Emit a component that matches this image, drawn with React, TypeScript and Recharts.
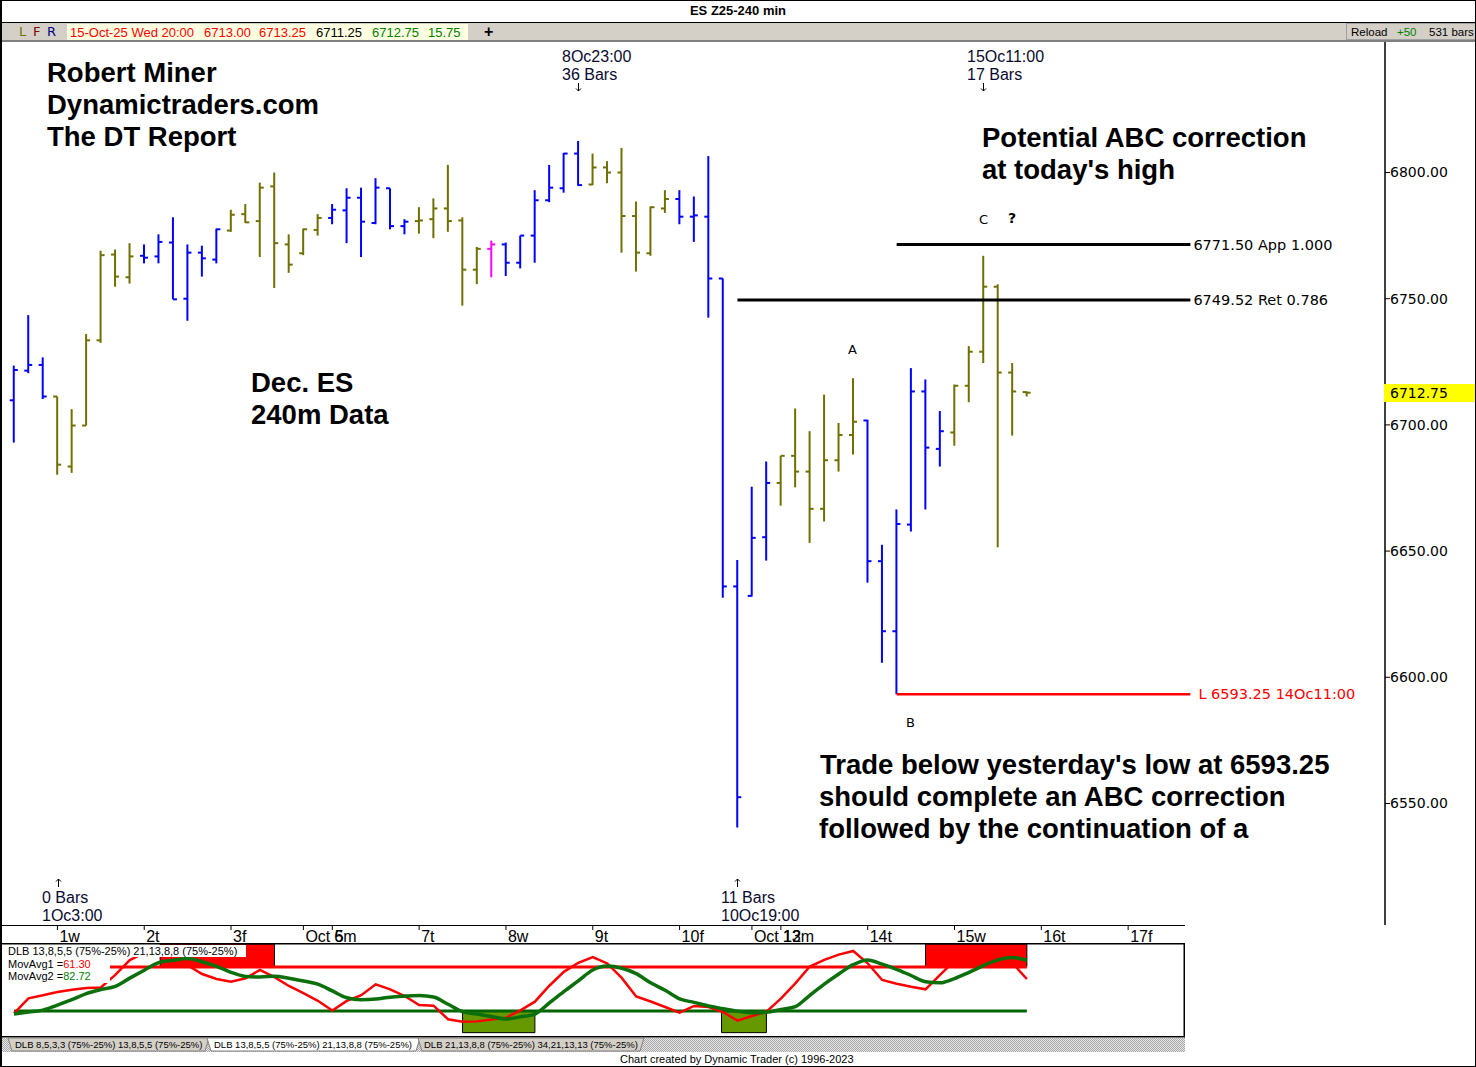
import React from 'react';
import { ComposedChart, Bar, Line, XAxis, YAxis, ReferenceLine, ReferenceArea } from 'recharts';

// ---------- DATA ----------
const opens = [6709.75, 6721.5, 6723.75, 6711.25, 6683.5, 6699.75, 6733.5, 6767.5, 6758.5, 6767, 6766.75, 6772.25, 6750, 6768.25, 6765.5, 6777, 6783.5, 6780.75, 6794.5, 6771.5, 6768, 6777.25, 6782, 6785, 6790, 6780, 6793.75, 6778.75, 6780.75, 6781.5, 6785.75, 6781, 6761.5, 6769.75, 6771.5, 6764.25, 6775, 6789, 6793.75, 6807.5, 6795.25, 6802, 6800, 6782.75, 6768, 6785.75, 6789.5, 6782.5, 6782.5, 6758, 6636, 6632.25, 6655.5, 6677, 6687.75, 6681.5, 6666.75, 6686, 6696, 6701.75, 6646, 6618.25, 6660.5, 6713.25, 6690.5, 6697, 6715.5, 6729, 6754.75, 6720.75, 6713];
const highs = [6723.5, 6743.5, 6726.75, 6711.25, 6706.25, 6736, 6769, 6769.5, 6772, 6771.5, 6775.5, 6782.25, 6771.5, 6771, 6777.75, 6785.25, 6787.5, 6796, 6800, 6775.5, 6777.75, 6783.5, 6787.5, 6793.75, 6794, 6797.75, 6793.75, 6781.5, 6786.25, 6789.75, 6803, 6782.25, 6770.5, 6773, 6772.25, 6775, 6793, 6803, 6807.75, 6812.5, 6807.5, 6804.5, 6809.75, 6788.5, 6786.5, 6793, 6793, 6790.5, 6806.5, 6758, 6646.5, 6675.5, 6685.5, 6687.75, 6706.5, 6697.5, 6712, 6700.75, 6718.5, 6702, 6652.5, 6666.5, 6722.5, 6718, 6705.5, 6716, 6731.25, 6767, 6755.75, 6724.5, 6713.25];
const lows = [6693, 6720.5, 6710.25, 6680.25, 6681, 6699.75, 6732.5, 6754.75, 6756, 6764, 6764, 6749.75, 6741.25, 6758.75, 6764, 6776.5, 6780, 6766.5, 6754.25, 6760.25, 6767.25, 6775, 6779.5, 6772, 6766.5, 6779.5, 6777.5, 6775.5, 6775.75, 6774, 6776.5, 6747.25, 6755.75, 6758.5, 6759, 6762, 6764.25, 6788.25, 6792, 6794.75, 6795, 6795.75, 6768.25, 6760.75, 6767, 6784, 6779.5, 6772.5, 6742.5, 6631.5, 6540.5, 6632, 6646.25, 6668, 6675.25, 6653.25, 6661.75, 6681.5, 6688.25, 6637.5, 6605.75, 6593.25, 6657.75, 6666.5, 6683.5, 6691.75, 6709, 6724.5, 6651.5, 6695.75, 6711.25];
const closes = [6721.75, 6723.75, 6711.25, 6684.25, 6699.75, 6733.5, 6767.25, 6758.75, 6766.75, 6766.25, 6772.5, 6749.75, 6768.25, 6766, 6777.5, 6783.25, 6780.25, 6794, 6772, 6763.5, 6777.5, 6782, 6785.25, 6790, 6780.5, 6794, 6778.75, 6780.5, 6781, 6785.75, 6780.75, 6761.5, 6769.75, 6771.5, 6764.25, 6775, 6789, 6794, 6807.5, 6795, 6802, 6800, 6782.75, 6768.25, 6786.25, 6789.5, 6782.5, 6783, 6758, 6636, 6552.5, 6655.25, 6677, 6687.75, 6681.5, 6666.75, 6686, 6696, 6701.25, 6646, 6618.25, 6660.75, 6713.25, 6691, 6697.5, 6715.5, 6729, 6754.75, 6720.75, 6713.25, 6712.75];
// b = blue, o = olive, m = magenta
const barColors = ['b','b','b','o','o','o','o','o','o','b','b','b','b','b','b','o','o','o','o','o','o','o','b','b','b','b','b','b','o','o','o','o','o','m','b','b','b','b','b','b','o','o','o','o','o','o','b','b','b','b','b','b','b','o','o','o','o','o','o','b','b','b','b','b','b','o','o','o','o','o','o'];

const redOsc = [22.4, 39.4, 42.8, 46.6, 49, 51, 51.7, 66, 82.8, 91, 95, 94, 77, 67, 61.4, 58.3, 62.1, 71.6, 63.5, 53.4, 45.2, 36.6, 25.5, 36.5, 43, 55.3, 49.5, 42, 31.8, 31, 15.6, 12.8, 13.2, 15.2, 17.3, 25.7, 35.6, 53.7, 69.5, 79.8, 86.3, 79, 62.6, 41.5, 35.8, 29.5, 23.1, 30.7, 29.5, 23.8, 14, 19.3, 24.2, 39, 56.3, 75.5, 83, 89, 93.2, 79.2, 60.2, 56, 52.5, 49.6, 66, 82, 88, 90, 87, 79.5, 61.3];
const greenOsc = [21.6, 23.8, 26, 31.7, 37.8, 44.7, 49.3, 53, 62.3, 71.3, 80, 82.6, 84.6, 81, 75.8, 68.9, 64.2, 63.5, 64.6, 62.2, 59.1, 55.5, 47.8, 40, 37.8, 38.5, 40.7, 41.9, 42.7, 40.8, 32.6, 24.2, 21.5, 18.7, 15.9, 18.3, 21.5, 34.3, 47.1, 59.2, 71.5, 76, 73.5, 67.5, 57, 48.5, 38.8, 34.8, 30.7, 27.6, 24.6, 23.1, 23.5, 26.7, 30, 42.8, 55.5, 67, 77.6, 83, 78.2, 72.4, 65.3, 58.3, 57, 61.8, 68.9, 76.5, 83.1, 85.8, 82.7];

const dayTicks = [3, 9, 15, 20, 22, 28, 34, 40, 46, 51, 53, 59, 65, 71, 77];
const dayLabels = ['1w', '2t', '3f', 'Oct 5', '6m', '7t', '8w', '9t', '10f', 'Oct 12', '13m', '14t', '15w', '16t', '17f'];
const priceTicks = [6550, 6600, 6650, 6700, 6750, 6800];

const appLevel = 6771.5;
const retLevel = 6749.52;
const lowLevel = 6593.25;

// ---------- BUILT TABLES ----------
const COLOR_MAP: Record<string, string> = { b: '#0000FF', o: '#707000', m: '#FF00FF' };
const priceData = opens.map((o, i) => ({
  i,
  open: o,
  high: highs[i],
  low: lows[i],
  close: closes[i],
  range: [lows[i], highs[i]],
  color: COLOR_MAP[barColors[i]],
}));
const oscData = redOsc.map((r, i) => ({ i, red: r, green: greenOsc[i] }));

const SANS = 'Liberation Sans, Arial, sans-serif';
const VERD = 'DejaVu Sans, Verdana, sans-serif';

function OhlcShape(props: any) {
  const { x, y, width, height, payload } = props;
  if (x == null || y == null || payload == null || isNaN(x)) return null;
  const top = Math.min(y, y + height);
  const h = Math.abs(height);
  const cx = x + width / 2;
  const span = payload.high - payload.low;
  const at = (v: number) => (span > 0 ? top + ((payload.high - v) / span) * h : top);
  const c = payload.color;
  return (
    <g>
      <line x1={cx} x2={cx} y1={top} y2={top + Math.max(h, 1)} stroke={c} strokeWidth={2} />
      <line x1={cx - 4} x2={cx} y1={at(payload.open)} y2={at(payload.open)} stroke={c} strokeWidth={2} />
      <line x1={cx} x2={cx + 4} y1={at(payload.close)} y2={at(payload.close)} stroke={c} strokeWidth={2} />
    </g>
  );
}

function DayTick(props: any) {
  const { x, y, payload } = props;
  const k = dayTicks.indexOf(payload.value);
  const label = k >= 0 ? dayLabels[k] : '';
  return (
    <g>
      <line x1={x} x2={x} y1={y - 19} y2={y - 14} stroke="#000" strokeWidth={1} />
      <text x={x + 2} y={y - 2} fontSize={16} fontFamily={SANS} fill="#000">{label}</text>
    </g>
  );
}

function Arrow({ x, y, up }: { x: number; y: number; up: boolean }) {
  const tipY = up ? y : y + 8;
  const d = up ? 2.5 : -2.5;
  return (
    <g stroke="#000" strokeWidth={1} fill="none">
      <line x1={x} x2={x} y1={y} y2={y + 8} />
      <polyline points={`${x - 2.5},${tipY + d} ${x},${tipY} ${x + 2.5},${tipY + d}`} />
    </g>
  );
}

export default function App() {
  return (
    <div style={{ position: 'absolute', left: 0, top: 0, width: 1476, height: 1067, background: '#fff', overflow: 'hidden' }}>
      {/* MAIN PRICE CHART */}
      <div style={{ position: 'absolute', left: 0, top: 41 }}>
        <ComposedChart width={1476} height={884} data={priceData} margin={{ top: 0, right: 0, bottom: 0, left: 0 }}>
          <XAxis dataKey="i" type="number" domain={[-0.9675, 94.75]} allowDataOverflow hide />
          <YAxis
            orientation="right"
            width={91}
            type="number"
            domain={[6501.86, 6852.1]}
            allowDataOverflow
            ticks={priceTicks}
            interval={0}
            tickFormatter={(v: number) => v.toFixed(2)}
            tick={{ fill: '#000', fontSize: 14, fontFamily: VERD }}
            tickSize={5}
            tickMargin={0}
            tickLine={{ stroke: '#000' }}
            axisLine={{ stroke: '#000', strokeWidth: 1.5 }}
          />
          <Bar dataKey="range" barSize={8} shape={OhlcShape} isAnimationActive={false} />
          <ReferenceLine
            segment={[{ x: 61, y: appLevel }, { x: 81.3, y: appLevel }]}
            stroke="#000"
            strokeWidth={3}
            label={{ value: '6771.50 App 1.000', position: 'right', offset: 3, fill: '#000', fontSize: 14.5, fontFamily: VERD }}
          />
          <ReferenceLine
            segment={[{ x: 50, y: retLevel }, { x: 81.3, y: retLevel }]}
            stroke="#000"
            strokeWidth={3}
            label={{ value: '6749.52 Ret 0.786', position: 'right', offset: 3, fill: '#000', fontSize: 14.5, fontFamily: VERD }}
          />
          <ReferenceLine
            segment={[{ x: 61, y: lowLevel }, { x: 81.3, y: lowLevel }]}
            stroke="#FF0000"
            strokeWidth={2.5}
            label={{ value: 'L 6593.25 14Oc11:00', position: 'right', offset: 8, fill: '#FF0000', fontSize: 14.5, fontFamily: VERD }}
          />
        </ComposedChart>
      </div>

      {/* INDICATOR PANEL WITH TIME AXIS */}
      <div style={{ position: 'absolute', left: 0, top: 925 }}>
        <ComposedChart width={1185} height={112} data={oscData} margin={{ top: 0, right: 0, bottom: 0, left: 0 }}>
          <XAxis
            dataKey="i"
            type="number"
            orientation="top"
            height={19}
            domain={[-0.9675, 80.93]}
            allowDataOverflow
            ticks={dayTicks}
            interval={0}
            tick={<DayTick />}
            tickSize={0}
            tickMargin={0}
            tickLine={false}
            axisLine={false}
          />
          <YAxis hide type="number" domain={[-4.55, 101.1]} allowDataOverflow />
          <ReferenceArea x1={10.1} x2={18} y1={75.3} y2={101.1} fill="#FF0000" fillOpacity={1} stroke="#000" strokeWidth={1} />
          <ReferenceArea x1={63} x2={70} y1={75.3} y2={101.1} fill="#FF0000" fillOpacity={1} stroke="#000" strokeWidth={1} />
          <ReferenceArea x1={31} x2={36} y1={0.4} y2={25} fill="#669900" fillOpacity={1} stroke="#000" strokeWidth={1} />
          <ReferenceArea x1={48.9} x2={52} y1={0.4} y2={25} fill="#669900" fillOpacity={1} stroke="#000" strokeWidth={1} />
          <ReferenceLine segment={[{ x: 0, y: 75 }, { x: 70, y: 75 }]} stroke="#FF0000" strokeWidth={3} />
          <ReferenceLine segment={[{ x: 0, y: 25 }, { x: 70, y: 25 }]} stroke="#006400" strokeWidth={3} />
          <Line dataKey="red" type="linear" stroke="#FF0000" strokeWidth={2.5} dot={false} isAnimationActive={false} />
          <Line dataKey="green" type="monotone" stroke="#0B700B" strokeWidth={3.5} dot={false} isAnimationActive={false} />
        </ComposedChart>
      </div>

      {/* CHROME AND ANNOTATION TEXT */}
      <svg width={1476} height={1067} style={{ position: 'absolute', left: 0, top: 0, pointerEvents: 'none' }}>
        <defs>
          <pattern id="hatch" width="2" height="2" patternUnits="userSpaceOnUse">
            <rect width="2" height="2" fill="#e6e6e6" />
            <rect width="1" height="1" fill="#a8a8a8" />
            <rect x="1" y="1" width="1" height="1" fill="#a8a8a8" />
          </pattern>
        </defs>
        {/* title bar */}
        <text x={738} y={15} textAnchor="middle" fontSize={13} fontWeight="bold" fontFamily={SANS} fill="#000">ES Z25-240 min</text>
        <line x1={0} x2={1476} y1={22.5} y2={22.5} stroke="#000" strokeWidth={1} />
        {/* info bar */}
        <rect x={0} y={23} width={1476} height={17} fill="#d4d0c8" />
        <line x1={0} x2={1476} y1={41} y2={41} stroke="#808080" strokeWidth={2} />
        <text x={19} y={36} fontSize={13} fontFamily={VERD} fill="#707000">L</text>
        <text x={33} y={36} fontSize={13} fontFamily={VERD} fill="#800000">F</text>
        <text x={47} y={36} fontSize={13} fontFamily={VERD} fill="#000080">R</text>
        <rect x={67} y={24} width={401} height={16} fill="#ffffe1" />
        <text y={37} fontSize={13} fontFamily={SANS}>
          <tspan x={70} fill="#FF0000">15-Oct-25 Wed 20:00</tspan>
          <tspan x={204} fill="#FF0000">6713.00</tspan>
          <tspan x={259} fill="#FF0000">6713.25</tspan>
          <tspan x={316} fill="#000">6711.25</tspan>
          <tspan x={372} fill="#008000">6712.75</tspan>
          <tspan x={428} fill="#008000">15.75</tspan>
        </text>
        <text x={484} y={37} fontSize={16} fontWeight="bold" fontFamily={SANS} fill="#000">+</text>
        <rect x={1346.5} y={23.5} width={129} height={16} fill="#d4d0c8" stroke="#a0a0a0" />
        <text y={36} fontSize={11.5} fontFamily={SANS}>
          <tspan x={1351} fill="#000">Reload</tspan>
          <tspan x={1397} fill="#008000">+50</tspan>
          <tspan x={1429} fill="#000">531 bars</tspan>
        </text>

        {/* last price tag */}
        <rect x={1384} y={384} width={92} height={18} fill="#FFFF00" />
        <text x={1390} y={398} fontSize={14} fontFamily={VERD} fill="#000">6712.75</text>

        {/* main annotations */}
        <g fontFamily={SANS} fontWeight="bold" fontSize={27.5} fill="#000">
          <text x={47} y={82}>Robert Miner</text>
          <text x={47} y={114}>Dynamictraders.com</text>
          <text x={47} y={146}>The DT Report</text>
          <text x={251} y={392}>Dec. ES</text>
          <text x={251} y={424}>240m Data</text>
          <text x={982} y={147}>Potential ABC correction</text>
          <text x={982} y={179}>at today's high</text>
          <text x={820} y={774}>Trade below yesterday's low at 6593.25</text>
          <text x={819} y={806}>should complete an ABC correction</text>
          <text x={819} y={838}>followed by the continuation of a</text>
        </g>
        <g fontFamily={SANS} fontSize={16} fill="#0a0a30">
          <text x={562} y={62}>8Oc23:00</text>
          <text x={562} y={80}>36 Bars</text>
          <text x={967} y={62}>15Oc11:00</text>
          <text x={967} y={80}>17 Bars</text>
          <text x={42} y={903}>0 Bars</text>
          <text x={42} y={921}>1Oc3:00</text>
          <text x={721} y={903}>11 Bars</text>
          <text x={721} y={921}>10Oc19:00</text>
        </g>
        <Arrow x={578.5} y={83} up={false} />
        <Arrow x={983.5} y={83} up={false} />
        <Arrow x={58.5} y={879} up={true} />
        <Arrow x={737.5} y={879} up={true} />
        <g fontFamily={VERD} fontSize={13} fill="#000">
          <text x={848} y={354}>A</text>
          <text x={906} y={727}>B</text>
          <text x={979} y={224}>C</text>
          <text x={1008} y={223} fontWeight="bold" fontSize={14}>?</text>
        </g>

        {/* frame lines */}
        <line x1={0} x2={1185} y1={925.5} y2={925.5} stroke="#000" strokeWidth={1} />
        <rect x={0.75} y={943.75} width={1183.5} height={93} fill="none" stroke="#000" strokeWidth={1.5} />

        {/* indicator legend */}
        <rect x={6} y={945} width={240} height={12} fill="#fff" />
        <rect x={6} y={957} width={104} height={26} fill="#fff" />
        <text x={8} y={955} fontSize={11} fontFamily={SANS} fill="#000">DLB 13,8,5,5 (75%-25%) 21,13,8,8 (75%-25%)</text>
        <text y={968} fontSize={11} fontFamily={SANS}>
          <tspan x={8} fill="#000">MovAvg1 =</tspan>
          <tspan fill="#FF0000">61.30</tspan>
        </text>
        <text y={980} fontSize={11} fontFamily={SANS}>
          <tspan x={8} fill="#000">MovAvg2 =</tspan>
          <tspan fill="#008000">82.72</tspan>
        </text>

        {/* tab bar */}
        <rect x={1} y={1038} width={1184} height={14} fill="url(#hatch)" />
        <polygon points="8,1038 209,1038 205,1051 12,1051" fill="#d4d0c8" stroke="#808080" strokeWidth={1} />
        <polygon points="207,1038 420,1038 416,1051 211,1051" fill="#ffffff" stroke="#808080" strokeWidth={1} />
        <polygon points="418,1038 644,1038 640,1051 422,1051" fill="#d4d0c8" stroke="#808080" strokeWidth={1} />
        <g fontSize={9.5} fontFamily={SANS} fill="#000">
          <text x={15} y={1048}>DLB 8,5,3,3 (75%-25%) 13,8,5,5 (75%-25%)</text>
          <text x={214} y={1048}>DLB 13,8,5,5 (75%-25%) 21,13,8,8 (75%-25%)</text>
          <text x={424} y={1048}>DLB 21,13,8,8 (75%-25%) 34,21,13,13 (75%-25%)</text>
        </g>
        <text x={620} y={1063} fontSize={11} fontFamily={SANS} fill="#000">Chart created by Dynamic Trader  (c) 1996-2023</text>

        {/* outer border */}
        <rect x={0.5} y={0.5} width={1475} height={1066} fill="none" stroke="#000" strokeWidth={1} />
        <line x1={1} x2={1} y1={0} y2={1067} stroke="#000" strokeWidth={2} />
      </svg>
    </div>
  );
}
